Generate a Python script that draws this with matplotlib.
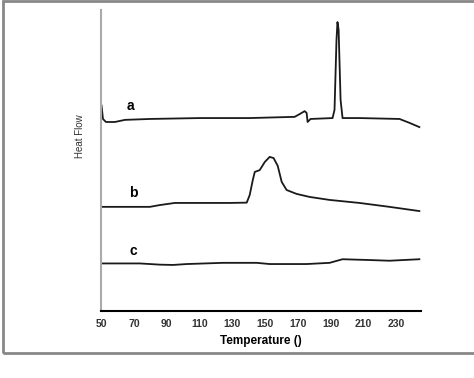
import matplotlib
matplotlib.use("Agg")
import matplotlib.pyplot as plt
from matplotlib.patches import Rectangle

plt.rcParams['font.family'] = ['Liberation Sans', 'DejaVu Sans']

# DSC traces, temperature in deg C, heat flow in arbitrary units
temp_a = [50.0, 50.3, 51.2, 53.0, 58.5, 64.6, 79.8, 110.2, 140.6, 168.0, 171.0, 174.1,
          175.3, 175.9, 177.7, 191.1, 192.3, 193.5, 194.1, 194.8, 196.0, 197.2,
          207.5, 231.9, 238.0, 244.0]
flow_a = [63.1, 68.4, 63.8, 62.8, 62.8, 63.5, 63.8, 64.1, 64.1, 64.5, 65.4, 66.4,
          65.8, 62.8, 63.8, 64.1, 66.8, 90.0, 96.0, 93.4, 70.1, 64.1,
          64.1, 63.8, 62.5, 61.1]

temp_b = [50.0, 79.8, 85.9, 95.0, 110.2, 128.5, 138.8, 140.6, 142.5, 143.7, 146.7,
          149.8, 152.8, 155.2, 157.7, 160.1, 163.1, 169.2, 177.1, 189.3, 207.5,
          225.8, 244.0]
flow_b = [34.6, 34.6, 35.2, 35.9, 35.9, 35.9, 36.0, 38.5, 43.5, 46.2, 46.8,
          49.5, 51.2, 50.8, 48.2, 42.9, 40.2, 38.9, 37.9, 36.9, 35.9,
          34.6, 33.2]

temp_c = [50.0, 51.2, 73.7, 85.9, 93.8, 102.3, 124.2, 144.9, 152.8, 175.3, 189.3,
          197.2, 215.5, 225.8, 244.0]
flow_c = [15.8, 15.8, 15.8, 15.4, 15.3, 15.6, 16.0, 16.0, 15.6, 15.6, 16.0,
          17.2, 16.9, 16.7, 17.2]

curve_labels = ['a', 'b', 'c']
label_pos = [(68.2, 68.1), (69.5, 39.2), (69.5, 19.9)]
xticks = [50, 70, 90, 110, 130, 150, 170, 190, 210, 230]

fig = plt.figure(figsize=(4.74, 3.78), dpi=100)
ax = fig.add_axes([101 / 474, 67 / 378, 320 / 474, 301 / 378])

for t, f in [(temp_a, flow_a), (temp_b, flow_b), (temp_c, flow_c)]:
    ax.plot(t, f, color='#1a1a1a', lw=1.3)

for lab, (x, y) in zip(curve_labels, label_pos):
    ax.text(x, y, lab, fontsize=10, fontweight='bold', ha='center', va='center')

ax.set_xlim(50, 245)
ax.set_ylim(0, 100)
ax.set_xticks(xticks)
ax.set_xticklabels([str(v) for v in xticks], fontsize=7.5, fontweight='bold', color='#333333')
ax.tick_params(axis='x', length=0, pad=6)
ax.set_yticks([])
ax.spines['top'].set_visible(False)
ax.spines['right'].set_visible(False)
ax.spines['bottom'].set_linewidth(1.5)
ax.spines['left'].set_color('#aaaaaa')
ax.spines['left'].set_linewidth(1.5)
ax.set_xlabel('Temperature ()', fontsize=8.5, fontweight='bold', labelpad=4)
ax.set_ylabel('Heat Flow', fontsize=7, color='#333333', labelpad=8)
ax.yaxis.set_label_coords(-0.05, 0.58)

# scanned figure frame
fig.patches.append(Rectangle((3 / 474, 25 / 378), 1.0, 352 / 378, transform=fig.transFigure,
                             fill=False, edgecolor='#888888', lw=2))

fig.savefig('out.png', dpi=100)
